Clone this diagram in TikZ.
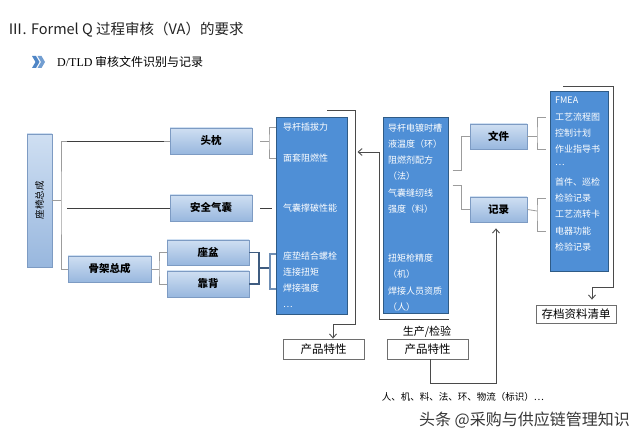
\documentclass[tikz,border=0pt]{standalone}
\usepackage{fontspec}
\setmainfont{Noto Sans CJK SC}
\newfontfamily\latinserif{Liberation Serif}
\usetikzlibrary{arrows.meta,calc}
\definecolor{partTop}{HTML}{CFDFF2}
\definecolor{partBot}{HTML}{98B7DE}
\definecolor{partEdge}{HTML}{7D9BC3}
\definecolor{listFill}{HTML}{4F8FD6}
\definecolor{listEdge}{HTML}{2F5B86}
\definecolor{outEdge}{HTML}{6E6E6E}
\definecolor{tieGray}{HTML}{9C9C9C}
\definecolor{tieDark}{HTML}{3E3E3E}
\definecolor{braceBlue}{HTML}{3F5C80}
\definecolor{braceLight}{HTML}{6F8FB5}
\definecolor{flowInk}{HTML}{4A4A4A}
\definecolor{titleInk}{HTML}{222222}
\definecolor{chevBlue}{HTML}{4F86C6}
\tikzset{
  partbox/.style  = {draw=partEdge, line width=0.8pt, top color=partTop, bottom color=partBot,
                     minimum width=82pt, minimum height=26pt, inner sep=0pt,
                     font=\fontsize{10.5}{12}\selectfont\bfseries},
  listbox/.style  = {draw=listEdge, line width=1pt, fill=listFill, inner sep=0pt},
  listtxt/.style  = {text=white, anchor=west, inner sep=0pt, font=\fontsize{9}{11}\selectfont},
  outbox/.style   = {draw=outEdge, line width=0.8pt, fill=white, minimum height=20pt,
                     inner sep=0pt, font=\fontsize{11.5}{13}\selectfont},
  tie/.style      = {draw=tieGray, line width=0.8pt},
  darktie/.style  = {draw=tieDark, line width=0.9pt},
  brace/.style    = {draw=braceBlue, line width=1.4pt},
  lightbrace/.style = {draw=braceLight, line width=1.1pt},
  flow/.style     = {draw=flowInk, line width=0.9pt, -{Straight Barb[length=4pt,width=7pt]}},
}
\begin{document}
\begin{tikzpicture}[x=1pt, y=-1pt]
  \useasboundingbox[fill=white] (0,0) rectangle (640,443);

  % heading
  \node[anchor=west, inner sep=0pt, text=titleInk, font=\fontsize{14.5}{16}\selectfont]
    (title) at (8,30) {Ⅲ. Formel Q 过程审核（VA）的要求};
  \fill[chevBlue] (32,56) -- (36,56) -- (39.5,62) -- (36,68) -- (32,68) -- (35.5,62) -- cycle;
  \fill[chevBlue!80] (37.5,56) -- (41.5,56) -- (45,62) -- (41.5,68) -- (37.5,68) -- (41,62) -- cycle;
  \node[anchor=west, inner sep=0pt, font=\fontsize{12}{14}\selectfont]
    (subtitle) at (57,62) {{\latinserif D/TLD} 审核文件识别与记录};

  % parts tree
  \node[partbox, minimum width=25pt, minimum height=133pt] (seat) at (39.5,200.5) {};
  \node[rotate=90, inner sep=0pt, font=\fontsize{9.5}{11}\selectfont] (seattxt) at (seat) {座椅总成};
  \node[partbox] (headrest) at (211,141) {头枕};
  \node[partbox] (airbag) at (211,208) {安全气囊};
  \node[partbox, minimum width=83pt] (frame) at (109.5,269) {骨架总成};
  \node[partbox, minimum height=25pt] (pan) at (208,252.5) {座盆};
  \node[partbox] (back) at (208,284) {靠背};

  \coordinate (sj) at (61,200.5);
  \draw[tie] (seat.east) -- (sj);
  \draw[tie] (headrest.west) -| (sj) |- (frame.west);
  \draw[darktie] ([xshift=-6pt]headrest.west) -- ([xshift=6pt]headrest.west -| sj);
  \draw[darktie] (airbag.west) -- ([xshift=6pt]airbag.west -| sj);
  \coordinate (fj) at (159,269);
  \draw[tie] (frame.east) -- (fj);
  \draw[tie] (pan.west) -| (fj) |- (back.west);

  % blue lists
  \node[listbox, minimum width=71pt, minimum height=197pt] (box1) at (311.5,216.5) {};
  \foreach \y/\t [count=\i] in {127/导杆插拔力, 158/面套阻燃性, 208/气囊撑破性能,
      256/座垫结合螺栓, 272/连接扭矩, 288/焊接强度, 307/…}
    \node[listtxt] (pa\i) at (283,\y) {\t};
  \node[listbox, minimum width=65pt, minimum height=196pt] (box2) at (415.5,216) {};
  \foreach \y/\t [count=\i] in {128/导杆电镀时槽, 144/液温度（环）, 160/阻燃剂配方, 176/（法）,
      193/气囊缝纫线, 209/强度（料）, 258/扭矩枪精度, 274/（机）, 291/焊接人员资质, 307/（人）}
    \node[listtxt] (pb\i) at (388,\y) {\t};
  \node[listbox, minimum width=58pt, minimum height=180pt] (box3) at (579,182) {};
  \foreach \y/\t [count=\i] in {100/FMEA, 117/工艺流程图, 133/控制计划, 149/作业指导书, 165/…,
      182/首件、巡检, 198/检验记录, 214/工艺流转卡, 231/电器功能, 247/检验记录}
    \node[listtxt] (pc\i) at (555,\y) {\t};

  % parts to list
  \coordinate (hj) at (269,141);
  \draw[tie] ([xshift=8pt]headrest.east) -- (hj);
  \draw[tie] (pa1.west -| box1.west) -| (hj) |- (pa2.west -| box1.west);
  \draw[darktie] ([xshift=8pt]airbag.east) -- ([xshift=-4pt]box1.west |- airbag.east);
  \coordinate (pbj) at (259,268);
  \coordinate (pbk) at (270,268);
  \draw[brace] (pan.east) -| (pbj) |- (back.east);
  \draw[brace] (pbj) -- (pbk);
  \draw[lightbrace] ([yshift=2pt]pa4.west -| box1.west) -| (pbk) |- ([yshift=-1pt]pa6.west -| box1.west);

  % documents and records
  \node[partbox, minimum width=57pt, minimum height=25pt] (doc) at (498.5,136.5) {文件};
  \node[partbox, minimum width=57pt, minimum height=25pt] (rec) at (498.5,209.5) {记录};
  \coordinate (dj) at (461,170);
  \coordinate (rj) at (461,185);
  \draw[tie] ([xshift=4pt]box2.east |- dj) -- (dj) |- (doc.west);
  \draw[tie] ([xshift=4pt]box2.east |- rj) -- (rj) |- (rec.west);
  \coordinate (dk) at (537,136.5);
  \coordinate (rk) at (537,211);
  \draw[tie] (doc.east) -- (dk);
  \draw[tie] ([xshift=-4pt]pc2.west -| box3.west) -| (dk) |- ([xshift=-4pt]pc4.west -| box3.west);
  \draw[tie] (rec.east) -- (rk);
  \draw[tie] ([xshift=-4pt]pc7.west -| box3.west) -| (rk) |- ([xshift=-4pt]pc9.west -| box3.west);

  % outputs
  \node[outbox, minimum width=81pt] (char1) at (323.5,349) {产品特性};
  \node[outbox, minimum width=81pt] (char2) at (427.5,349) {产品特性};
  \node[outbox, minimum width=80pt, minimum height=18pt] (archive) at (576,314) {存档资料清单};
  \node[inner sep=0pt, font=\fontsize{11}{13}\selectfont] (prodlbl) at (427,332) {生产/检验};
  \node[inner sep=0pt, font=\fontsize{9.5}{11}\selectfont] (factors) at (463,397)
    {人、机、料、法、环、物流（标识）…};

  % feedback loops
  \coordinate (lp1) at (327,110);
  \coordinate (lp2) at (355,324);
  \draw[flow] (lp1) -| (lp2) -| ([xshift=9.5pt]char1.north);
  \coordinate (lq1) at (449,319);
  \coordinate (lq2) at (379,152);
  \draw[flow] (lq1) -| (lq2) -- ([xshift=10pt]box1.east |- lq2);
  \coordinate (lr) at (496,383);
  \draw[flow] ([xshift=2.5pt]char2.south) |- (lr) -- ([yshift=-6pt]rec.south -| lr);
  \coordinate (ls1) at (563,86);
  \coordinate (ls2) at (613,287);
  \draw[flow] (ls1) -| (ls2) -| ([xshift=16pt,yshift=5pt]archive.north);

  \node[anchor=east, inner sep=0pt, text=titleInk!90, font=\fontsize{16}{18}\selectfont]
    (mark) at (630,420) {头条 @采购与供应链管理知识};
\end{tikzpicture}
\end{document}
